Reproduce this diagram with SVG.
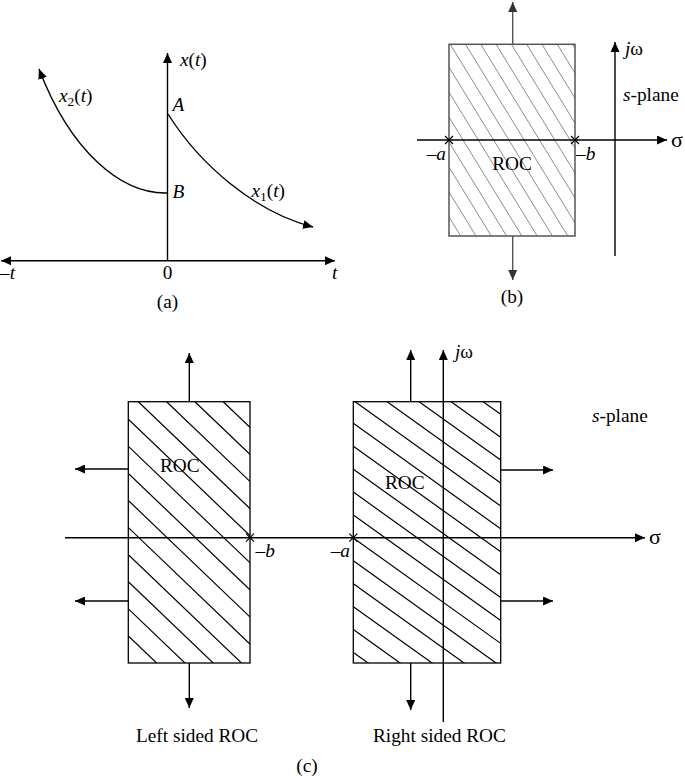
<svg xmlns="http://www.w3.org/2000/svg" width="685" height="776" viewBox="0 0 685 776">
<defs>
<style>
text{font-family:"Liberation Serif","Times New Roman",serif;font-size:19.3px;fill:#000}
.i{font-style:italic}
.ax{stroke:#000;stroke-width:1.4;fill:none}
.axg{stroke:#555;stroke-width:1.4;fill:none}
.bx{stroke:#000;stroke-width:1.3;fill:none}
.bxg{stroke:#555;stroke-width:1.5;fill:none}
.h{stroke:#000;stroke-width:1.2}
.hg{stroke:#8c8c8c;stroke-width:1}
.xm{stroke:#000;stroke-width:1.2}
.arr{marker-end:url(#ah)}
.arrg{marker-end:url(#ahg)}
.sig{font-size:22px}
</style>
<marker id="ah" markerUnits="userSpaceOnUse" markerWidth="10" markerHeight="9" refX="10" refY="4.5" orient="auto-start-reverse"><path d="M0,0 L10,4.5 L0,9 z" fill="#000"/></marker>
<marker id="ahg" markerUnits="userSpaceOnUse" markerWidth="10" markerHeight="9" refX="10" refY="4.5" orient="auto-start-reverse"><path d="M0,0 L10,4.5 L0,9 z" fill="#333"/></marker>
<clipPath id="cb"><rect x="449" y="44.3" width="126" height="191.7"/></clipPath>
<clipPath id="cl"><rect x="128.3" y="401.7" width="121.7" height="261.3"/></clipPath>
<clipPath id="cr"><rect x="353.3" y="401.7" width="147.4" height="261.3"/></clipPath>
</defs>

<g id="panel-a">
  <g id="a-axes">
    <line class="ax arr" x1="167.5" y1="260.7" x2="167.5" y2="53"/>
    <line class="ax arr" x1="1" y1="260.7" x2="335" y2="260.7" style="marker-start:url(#ah)"/>
  </g>
  <g id="a-curves">
    <path class="ax arr" d="M168,114 C200,165 255,212 313,227"/>
    <path class="ax arr" d="M167,193 C120,194 70,150 39,69"/>
  </g>
  <g id="a-labels">
    <text x="180" y="66"><tspan class="i">x</tspan>(<tspan class="i">t</tspan>)</text>
    <text x="172.5" y="110.5" class="i">A</text>
    <text x="172.5" y="197.5" class="i">B</text>
    <text x="251.5" y="197"><tspan class="i">x</tspan><tspan font-size="13.5" dy="4">1</tspan><tspan dy="-4">(</tspan><tspan class="i">t</tspan>)</text>
    <text x="59" y="102"><tspan class="i">x</tspan><tspan font-size="13.5" dy="4">2</tspan><tspan dy="-4">(</tspan><tspan class="i">t</tspan>)</text>
    <text x="167.5" y="278.5" text-anchor="middle">0</text>
    <text x="0" y="278.5">–<tspan class="i">t</tspan></text>
    <text x="332" y="278.5" class="i">t</text>
    <text x="167.5" y="308" text-anchor="middle">(a)</text>
  </g>
</g>

<g id="panel-b">
  <g id="b-roc" clip-path="url(#cb)">
    <line class="hg" x1="327.6" y1="44" x2="447.6" y2="239.6"/>
    <line class="hg" x1="342.9" y1="44" x2="462.9" y2="239.6"/>
    <line class="hg" x1="358.2" y1="44" x2="478.2" y2="239.6"/>
    <line class="hg" x1="373.5" y1="44" x2="493.5" y2="239.6"/>
    <line class="hg" x1="388.8" y1="44" x2="508.8" y2="239.6"/>
    <line class="hg" x1="404.1" y1="44" x2="524.1" y2="239.6"/>
    <line class="hg" x1="419.4" y1="44" x2="539.4" y2="239.6"/>
    <line class="hg" x1="434.7" y1="44" x2="554.7" y2="239.6"/>
    <line class="hg" x1="450" y1="44" x2="570" y2="239.6"/>
    <line class="hg" x1="465.3" y1="44" x2="585.3" y2="239.6"/>
    <line class="hg" x1="480.6" y1="44" x2="600.6" y2="239.6"/>
    <line class="hg" x1="495.9" y1="44" x2="615.9" y2="239.6"/>
    <line class="hg" x1="511.2" y1="44" x2="631.2" y2="239.6"/>
    <line class="hg" x1="526.5" y1="44" x2="646.5" y2="239.6"/>
    <line class="hg" x1="541.8" y1="44" x2="661.8" y2="239.6"/>
    <line class="hg" x1="557.1" y1="44" x2="677.1" y2="239.6"/>
    <line class="hg" x1="572.4" y1="44" x2="692.4" y2="239.6"/>
  </g>
  <rect id="b-box" class="bxg" x="449" y="44.3" width="126" height="191.7"/>
  <g id="b-arrows">
    <line class="axg arrg" x1="512.7" y1="44.3" x2="512.7" y2="2"/>
    <line class="axg arrg" x1="512.7" y1="236" x2="512.7" y2="280"/>
  </g>
  <g id="b-axes">
    <line class="ax arr" x1="417" y1="140" x2="667" y2="140"/>
    <line class="ax arr" x1="615" y1="256" x2="615" y2="42"/>
    <path class="xm" d="M445,136 L453,144 M445,144 L453,136 M571,136 L579,144 M571,144 L579,136"/>
  </g>
  <g id="b-labels">
    <text x="671" y="147" class="sig">σ</text>
    <text x="625" y="55"><tspan class="i">j</tspan>ω</text>
    <text x="623" y="101"><tspan class="i">s</tspan>-plane</text>
    <text x="446" y="160" text-anchor="end">–<tspan class="i">a</tspan></text>
    <text x="576" y="160">–<tspan class="i">b</tspan></text>
    <text x="512" y="170" text-anchor="middle">ROC</text>
    <text x="512" y="303" text-anchor="middle">(b)</text>
  </g>
</g>

<g id="panel-c">
  <g id="c-left-roc" clip-path="url(#cl)">
    <line class="h" x1="-144.7" y1="401.7" x2="135.3" y2="669.7"/>
    <line class="h" x1="-116.4" y1="401.7" x2="163.6" y2="669.7"/>
    <line class="h" x1="-88.1" y1="401.7" x2="191.9" y2="669.7"/>
    <line class="h" x1="-59.8" y1="401.7" x2="220.2" y2="669.7"/>
    <line class="h" x1="-31.5" y1="401.7" x2="248.5" y2="669.7"/>
    <line class="h" x1="-3.2" y1="401.7" x2="276.8" y2="669.7"/>
    <line class="h" x1="25.1" y1="401.7" x2="305.1" y2="669.7"/>
    <line class="h" x1="53.4" y1="401.7" x2="333.4" y2="669.7"/>
    <line class="h" x1="81.7" y1="401.7" x2="361.7" y2="669.7"/>
    <line class="h" x1="110" y1="401.7" x2="390" y2="669.7"/>
    <line class="h" x1="138.3" y1="401.7" x2="418.3" y2="669.7"/>
    <line class="h" x1="166.6" y1="401.7" x2="446.6" y2="669.7"/>
    <line class="h" x1="194.9" y1="401.7" x2="474.9" y2="669.7"/>
    <line class="h" x1="223.2" y1="401.7" x2="503.2" y2="669.7"/>
  </g>
  <rect id="c-left-box" class="bx" x="128.3" y="401.7" width="121.7" height="261.3"/>
  <g id="c-right-roc" clip-path="url(#cr)">
    <line class="h" x1="3.1" y1="401.7" x2="373.1" y2="666.6"/>
    <line class="h" x1="35.1" y1="401.7" x2="405.1" y2="666.6"/>
    <line class="h" x1="67.1" y1="401.7" x2="437.1" y2="666.6"/>
    <line class="h" x1="99.1" y1="401.7" x2="469.1" y2="666.6"/>
    <line class="h" x1="131.1" y1="401.7" x2="501.1" y2="666.6"/>
    <line class="h" x1="163.1" y1="401.7" x2="533.1" y2="666.6"/>
    <line class="h" x1="195.1" y1="401.7" x2="565.1" y2="666.6"/>
    <line class="h" x1="227.1" y1="401.7" x2="597.1" y2="666.6"/>
    <line class="h" x1="259.1" y1="401.7" x2="629.1" y2="666.6"/>
    <line class="h" x1="291.1" y1="401.7" x2="661.1" y2="666.6"/>
    <line class="h" x1="323.1" y1="401.7" x2="693.1" y2="666.6"/>
    <line class="h" x1="355.1" y1="401.7" x2="725.1" y2="666.6"/>
    <line class="h" x1="387.1" y1="401.7" x2="757.1" y2="666.6"/>
    <line class="h" x1="419.1" y1="401.7" x2="789.1" y2="666.6"/>
    <line class="h" x1="451.1" y1="401.7" x2="821.1" y2="666.6"/>
    <line class="h" x1="483.1" y1="401.7" x2="853.1" y2="666.6"/>
  </g>
  <rect id="c-right-box" class="bx" x="353.3" y="401.7" width="147.4" height="261.3"/>
  <g id="c-arrows">
    <line class="ax arr" x1="189.3" y1="401.7" x2="189.3" y2="353"/>
    <line class="ax arr" x1="189.3" y1="663" x2="189.3" y2="708"/>
    <line class="ax arr" x1="128.3" y1="469" x2="75" y2="469"/>
    <line class="ax arr" x1="128.3" y1="601" x2="75" y2="601"/>
    <line class="ax arr" x1="410.7" y1="401.7" x2="410.7" y2="350"/>
    <line class="ax arr" x1="410.7" y1="663" x2="410.7" y2="710"/>
    <line class="ax arr" x1="500.7" y1="470" x2="553" y2="470"/>
    <line class="ax arr" x1="500.7" y1="601" x2="553" y2="601"/>
  </g>
  <g id="c-axes">
    <line class="ax arr" x1="65" y1="537.7" x2="645" y2="537.7"/>
    <line class="ax arr" x1="443.3" y1="722" x2="443.3" y2="350"/>
    <path class="xm" d="M246,533.7 L254,541.7 M246,541.7 L254,533.7 M349.3,533.7 L357.3,541.7 M349.3,541.7 L357.3,533.7"/>
  </g>
  <g id="c-labels">
    <text x="649" y="544" class="sig">σ</text>
    <text x="455" y="358"><tspan class="i">j</tspan>ω</text>
    <text x="592" y="422"><tspan class="i">s</tspan>-plane</text>
    <text x="255.5" y="557">–<tspan class="i">b</tspan></text>
    <text x="350" y="557" text-anchor="end">–<tspan class="i">a</tspan></text>
    <text x="160" y="472">ROC</text>
    <text x="385" y="488.5">ROC</text>
    <text x="136" y="742">Left sided ROC</text>
    <text x="373" y="742">Right sided ROC</text>
    <text x="307" y="772" text-anchor="middle">(c)</text>
  </g>
</g>
</svg>
